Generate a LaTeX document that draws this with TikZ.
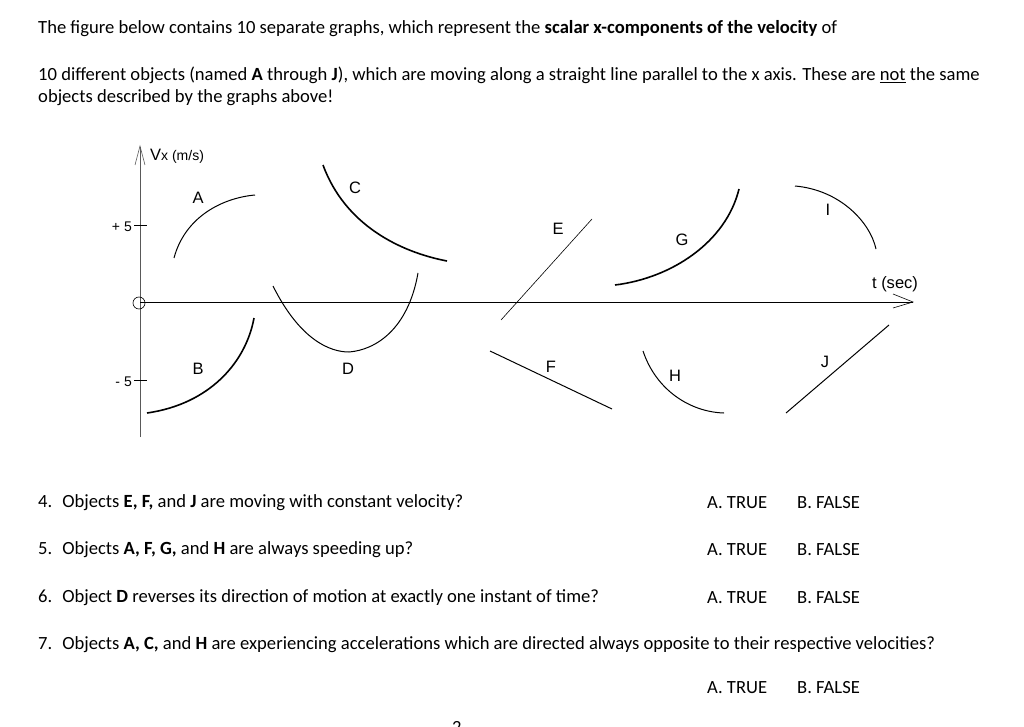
\documentclass[tikz,border=0pt]{standalone}
\usepackage{fontspec}
\setmainfont{Carlito}
\newfontfamily\arial{Liberation Sans}
\begin{document}
\begin{tikzpicture}[x=1pt,y=-1pt,
  txt/.style={anchor=west,inner sep=0pt,font=\fontsize{18.6}{22}\selectfont},
  lab/.style={inner sep=0pt,font=\arial\fontsize{16.5}{19}\selectfont},
  thin/.style={line width=0.6pt},
  med/.style={line width=1pt},
  thick2/.style={line width=1.6pt}]
\useasboundingbox (0,0) rectangle (1024,727);
\node[txt] (l1) at (38,29) {The figure below contains 10 separate graphs, which represent the \textbf{scalar x-components of the velocity} of};
\node[txt] (l2) at (38,75) {10 different objects (named \textbf{A} through \textbf{J}), which are moving along a straight line parallel to the x axis. These are \underline{not} the same};
\node[txt] (l3) at (38,98) {objects described by the graphs above!};
% axes
\draw[thin,gray!70!black] (140,437) -- (140,147);
\draw[thin,gray!70!black] (135,165) -- (140,146) -- (145,165);
\draw[thin] (140,302) -- (913,302);
\draw[thin] (893,294) -- (913,302) -- (893,308);
\draw[thin] (139,303) circle (6);
\draw[thin] (134,225) -- (147,225);
\draw[thin] (134,380) -- (147,380);
\node[lab,anchor=east,font=\arial\fontsize{14}{16}\selectfont] (p5) at (132,227) {+ 5};
\node[lab,anchor=east,font=\arial\fontsize{14}{16}\selectfont] (m5) at (132,382) {- 5};
\node[lab,anchor=west] (vx) at (150,156) {V\fontsize{14}{16}\selectfont x (m/s)};
\node[lab] (ts) at (895,284) {t (sec)};
% curves
\draw[med] (174,258) .. controls (185,217) and (222,198) .. (255,195);
\node[lab] (A) at (198,198) {A};
\draw[thick2] (147,413) .. controls (210,404) and (246,362) .. (254,318);
\node[lab] (B) at (198,369) {B};
\draw[thick2] (323,165) .. controls (345,225) and (400,252) .. (447,261);
\node[lab] (C) at (355,188) {C};
\draw[med] (273,286) .. controls (300,340) and (330,352) .. (349,352) .. controls (375,350) and (408,330) .. (418,273);
\node[lab] (D) at (348,369) {D};
\draw[thin] (501,320) -- (592,219);
\node[lab] (E) at (558,229) {E};
\draw[med] (490,351) -- (612,409);
\node[lab] (F) at (551,367) {F};
\draw[thick2] (615,285) .. controls (672,278) and (726,242) .. (739,189);
\node[lab] (G) at (682,240) {G};
\draw[med] (643,351) .. controls (656,390) and (690,412) .. (724,413);
\node[lab] (H) at (675,376) {H};
\draw[med] (795,186) .. controls (840,190) and (870,222) .. (876,249);
\node[lab] (I) at (828,210) {I};
\draw[med] (786,413) -- (889,325);
\node[lab] (J) at (825,362) {J};
% questions
\node[txt] (q4) at (38,503) {4.\hspace{10pt}Objects \textbf{E, F,} and \textbf{J} are moving with constant velocity?};
\node[txt] (q5) at (38,550) {5.\hspace{10pt}Objects \textbf{A, F, G,} and \textbf{H} are always speeding up?};
\node[txt] (q6) at (38,598) {6.\hspace{10pt}Object \textbf{D} reverses its direction of motion at exactly one instant of time?};
\node[txt] (q7) at (38,645) {7.\hspace{10pt}Objects \textbf{A, C,} and \textbf{H} are experiencing accelerations which are directed always opposite to their respective velocities?};
\foreach \y/\n in {503/a,550/b,598/c,688/d}{
  \node[txt] (t\n) at (707,\y) {A. TRUE};
  \node[txt] (f\n) at (797,\y) {B. FALSE};
}
\node[txt] (pg) at (452,727) {2};
\end{tikzpicture}
\end{document}
